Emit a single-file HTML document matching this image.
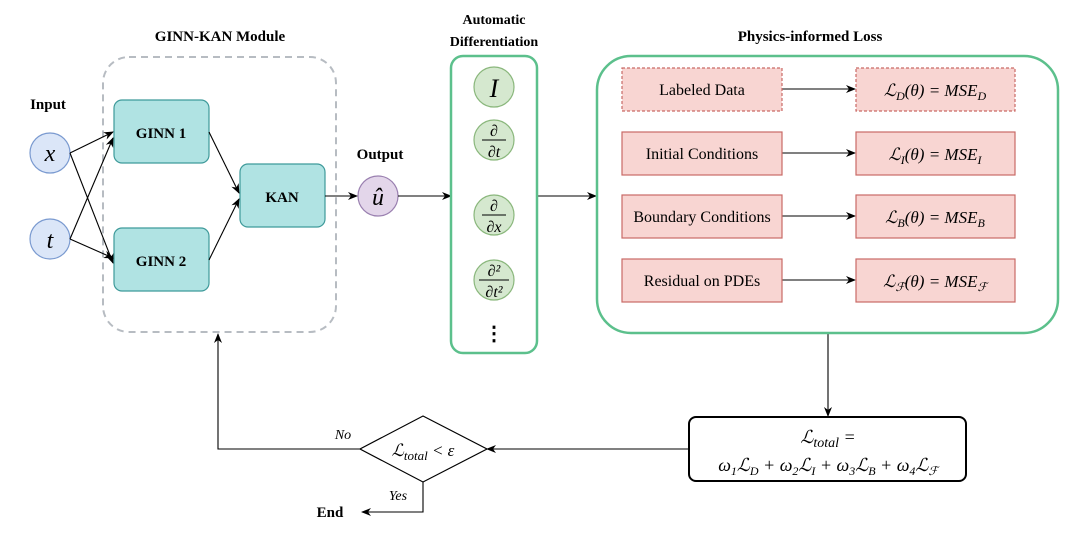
<!DOCTYPE html>
<html><head><meta charset="utf-8"><style>
body{margin:0;background:#fff}
svg text{font-family:"Liberation Serif",serif}
.b{font-weight:bold}
.m{font-family:"Liberation Serif","DejaVu Serif",serif;font-style:italic}
</style></head><body>
<svg width="1080" height="535" viewBox="0 0 1080 535" xmlns="http://www.w3.org/2000/svg">
<defs><marker id="a" markerWidth="10" markerHeight="10" refX="9" refY="5" orient="auto" markerUnits="userSpaceOnUse"><path d="M0,1 L10,5 L0,9 L3,5 z" fill="#000"/></marker></defs>
<text x="48" y="109" font-size="15" class="b" text-anchor="middle">Input</text>
<text x="220" y="41" font-size="15" class="b" text-anchor="middle">GINN-KAN Module</text>
<text x="494" y="24" font-size="14" class="b" text-anchor="middle">Automatic</text>
<text x="494" y="46" font-size="14" class="b" text-anchor="middle">Differentiation</text>
<text x="810" y="41" font-size="15" class="b" text-anchor="middle">Physics-informed Loss</text>
<text x="380" y="159" font-size="15" class="b" text-anchor="middle">Output</text>

<rect x="103" y="57" width="233" height="275" rx="26" fill="none" stroke="#b7bcc2" stroke-width="2" stroke-dasharray="7,5"/>
<g fill="#b0e3e3" stroke="#3e9a9a" stroke-width="1.2">
<rect x="114" y="100" width="95" height="63" rx="8"/>
<rect x="114" y="228" width="95" height="63" rx="8"/>
<rect x="240" y="164" width="85" height="63" rx="8"/>
</g>
<text x="161" y="138" font-size="15" class="b" text-anchor="middle">GINN 1</text>
<text x="161" y="266" font-size="15" class="b" text-anchor="middle">GINN 2</text>
<text x="282" y="202" font-size="15" class="b" text-anchor="middle">KAN</text>

<g fill="#dbe6f8" stroke="#7a9ad0" stroke-width="1.2">
<circle cx="50" cy="153" r="20"/><circle cx="50" cy="239" r="20"/>
</g>
<text x="50" y="161" font-size="24" class="m" text-anchor="middle">x</text>
<text x="50" y="248" font-size="24" class="m" text-anchor="middle">t</text>
<circle cx="378" cy="196" r="20" fill="#e3d6ea" stroke="#9a80b0" stroke-width="1.2"/>
<text x="378" y="205" font-size="24" class="m" text-anchor="middle">û</text>

<g stroke="#000" stroke-width="1.1" fill="none" marker-end="url(#a)">
<line x1="70" y1="153" x2="113" y2="132"/>
<line x1="70" y1="153" x2="113" y2="263"/>
<line x1="70" y1="239" x2="113" y2="138"/>
<line x1="70" y1="239" x2="113" y2="258"/>
<line x1="209" y1="132" x2="239" y2="193"/>
<line x1="209" y1="260" x2="239" y2="199"/>
<line x1="325" y1="196" x2="357" y2="196"/>
<line x1="398" y1="196" x2="451" y2="196"/>
<line x1="537" y1="196" x2="596" y2="196"/>
<line x1="782" y1="89" x2="855" y2="89"/>
<line x1="782" y1="153" x2="855" y2="153"/>
<line x1="782" y1="216" x2="855" y2="216"/>
<line x1="782" y1="280" x2="855" y2="280"/>
<line x1="828" y1="333" x2="828" y2="416"/>
<line x1="689" y1="449" x2="487" y2="449"/>
<polyline points="360,449 218,449 218,334"/>
<polyline points="423,482 423,512 362,512"/>
</g>

<rect x="451" y="56" width="86" height="297" rx="12" fill="#fff" stroke="#5cc08c" stroke-width="2.5"/>
<g fill="#d5e8cf" stroke="#8ab77c" stroke-width="1.2">
<circle cx="494" cy="87" r="20"/><circle cx="494" cy="140" r="20"/>
<circle cx="494" cy="215" r="20"/><circle cx="494" cy="280" r="20"/>
</g>
<text x="494" y="97" font-size="26" class="m" text-anchor="middle">I</text>
<g font-size="16" class="m" text-anchor="middle">
<text x="494" y="136">∂</text><text x="494" y="157">∂t</text>
<text x="494" y="211">∂</text><text x="494" y="232">∂x</text>
<text x="494" y="276">∂²</text><text x="494" y="297">∂t²</text>
</g>
<g stroke="#000" stroke-width="1"><line x1="482" y1="140" x2="506" y2="140"/><line x1="482" y1="215" x2="506" y2="215"/><line x1="479" y1="280" x2="509" y2="280"/></g>
<text x="494" y="340" font-size="20" text-anchor="middle" class="b">⋮</text>

<rect x="597" y="56" width="461" height="277" rx="34" fill="none" stroke="#5cc08c" stroke-width="2.5"/>
<g fill="#f8d5d2" stroke="#c96a66" stroke-width="1.2">
<rect x="622" y="68" width="160" height="43" stroke-dasharray="3,2"/>
<rect x="856" y="68" width="159" height="43" stroke-dasharray="3,2"/>
<rect x="622" y="132" width="160" height="43"/><rect x="856" y="132" width="159" height="43"/>
<rect x="622" y="195" width="160" height="43"/><rect x="856" y="195" width="159" height="43"/>
<rect x="622" y="259" width="160" height="43"/><rect x="856" y="259" width="159" height="43"/>
</g>
<g font-size="16" text-anchor="middle">
<text x="702" y="95">Labeled Data</text>
<text x="702" y="159">Initial Conditions</text>
<text x="702" y="222">Boundary Conditions</text>
<text x="702" y="286">Residual on PDEs</text>
</g>
<g font-size="17" class="m" text-anchor="middle">
<text x="935" y="96">ℒ<tspan font-size="12" dy="4">D</tspan><tspan dy="-4">(θ) = MSE</tspan><tspan font-size="12" dy="4">D</tspan></text>
<text x="935" y="160">ℒ<tspan font-size="12" dy="4">I</tspan><tspan dy="-4">(θ) = MSE</tspan><tspan font-size="12" dy="4">I</tspan></text>
<text x="935" y="223">ℒ<tspan font-size="12" dy="4">B</tspan><tspan dy="-4">(θ) = MSE</tspan><tspan font-size="12" dy="4">B</tspan></text>
<text x="935" y="287">ℒ<tspan font-size="12" dy="4">ℱ</tspan><tspan dy="-4">(θ) = MSE</tspan><tspan font-size="12" dy="4">ℱ</tspan></text>
</g>

<rect x="689" y="417" width="277" height="64" rx="7" fill="#fff" stroke="#000" stroke-width="2"/>
<text x="828" y="443" font-size="18" class="m" text-anchor="middle">ℒ<tspan font-size="14" dy="4">total</tspan><tspan dy="-4"> =</tspan></text>
<text x="828" y="471" font-size="18" class="m" text-anchor="middle">ω<tspan font-size="12" dy="4">1</tspan><tspan dy="-4">ℒ</tspan><tspan font-size="12" dy="4">D</tspan><tspan dy="-4"> + ω</tspan><tspan font-size="12" dy="4">2</tspan><tspan dy="-4">ℒ</tspan><tspan font-size="12" dy="4">I</tspan><tspan dy="-4"> + ω</tspan><tspan font-size="12" dy="4">3</tspan><tspan dy="-4">ℒ</tspan><tspan font-size="12" dy="4">B</tspan><tspan dy="-4"> + ω</tspan><tspan font-size="12" dy="4">4</tspan><tspan dy="-4">ℒ</tspan><tspan font-size="12" dy="4">ℱ</tspan></text>

<polygon points="423,416 487,449 423,482 360,449" fill="#fff" stroke="#000" stroke-width="1.2"/>
<text x="423" y="456" font-size="17" class="m" text-anchor="middle">ℒ<tspan font-size="13" dy="4">total</tspan><tspan dy="-4"> &lt; ε</tspan></text>
<text x="343" y="439" font-size="14" class="m" text-anchor="middle">No</text>
<text x="398" y="500" font-size="14" class="m" text-anchor="middle">Yes</text>
<text x="330" y="517" font-size="15" class="b" text-anchor="middle">End</text>
</svg>
</body></html>
